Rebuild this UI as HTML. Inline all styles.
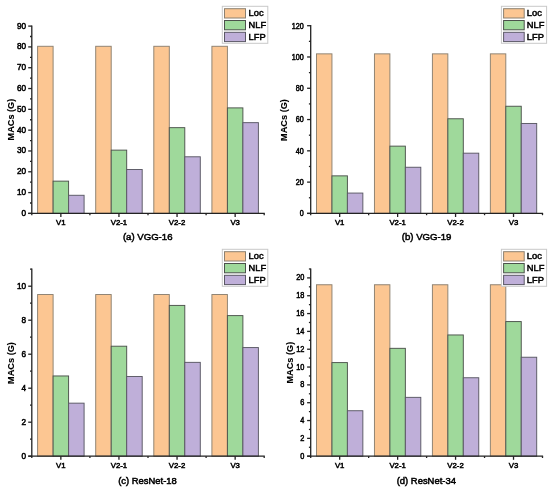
<!DOCTYPE html>
<html><head><meta charset="utf-8"><style>
html,body{margin:0;padding:0;background:#fff;}
svg{display:block;will-change:transform;}
text{font-family:"Liberation Sans",sans-serif;fill:#000;stroke:#000;stroke-width:0.5px;}
</style></head><body>
<svg width="550" height="491" viewBox="0 0 550 491">
<rect width="550" height="491" fill="#fff"/>
<rect x="37.61" y="46.29" width="15.49" height="167.11" fill="#fcc692" stroke="#8c8070" stroke-width="0.95"/>
<rect x="53.1" y="181.14" width="15.49" height="32.26" fill="#9fd99b" stroke="#4c524c" stroke-width="0.95"/>
<rect x="68.6" y="195.29" width="15.49" height="18.11" fill="#bfafd9" stroke="#5a5864" stroke-width="0.95"/>
<rect x="95.71" y="46.29" width="15.49" height="167.11" fill="#fcc692" stroke="#8c8070" stroke-width="0.95"/>
<rect x="111.2" y="150.13" width="15.49" height="63.27" fill="#9fd99b" stroke="#4c524c" stroke-width="0.95"/>
<rect x="126.7" y="169.49" width="15.49" height="43.91" fill="#bfafd9" stroke="#5a5864" stroke-width="0.95"/>
<rect x="153.81" y="46.29" width="15.49" height="167.11" fill="#fcc692" stroke="#8c8070" stroke-width="0.95"/>
<rect x="169.3" y="127.66" width="15.49" height="85.74" fill="#9fd99b" stroke="#4c524c" stroke-width="0.95"/>
<rect x="184.8" y="156.79" width="15.49" height="56.61" fill="#bfafd9" stroke="#5a5864" stroke-width="0.95"/>
<rect x="211.91" y="46.29" width="15.49" height="167.11" fill="#fcc692" stroke="#8c8070" stroke-width="0.95"/>
<rect x="227.4" y="107.89" width="15.49" height="105.51" fill="#9fd99b" stroke="#4c524c" stroke-width="0.95"/>
<rect x="242.9" y="122.66" width="15.49" height="90.74" fill="#bfafd9" stroke="#5a5864" stroke-width="0.95"/>
<line x1="31.8" y1="25.5" x2="31.8" y2="215.2" stroke="#222" stroke-width="1.3"/>
<line x1="28.2" y1="213.4" x2="264.8" y2="213.4" stroke="#222" stroke-width="1.3"/>
<line x1="28.2" y1="213.4" x2="31.8" y2="213.4" stroke="#222" stroke-width="1.3"/>
<text transform="translate(26,215.9) scale(1,1)" text-anchor="end" font-size="8.2">0</text>
<line x1="30" y1="202.99" x2="31.8" y2="202.99" stroke="#222" stroke-width="1.3"/>
<line x1="28.2" y1="192.59" x2="31.8" y2="192.59" stroke="#222" stroke-width="1.3"/>
<text transform="translate(26,195.09) scale(1,1)" text-anchor="end" font-size="8.2">10</text>
<line x1="30" y1="182.18" x2="31.8" y2="182.18" stroke="#222" stroke-width="1.3"/>
<line x1="28.2" y1="171.78" x2="31.8" y2="171.78" stroke="#222" stroke-width="1.3"/>
<text transform="translate(26,174.28) scale(1,1)" text-anchor="end" font-size="8.2">20</text>
<line x1="30" y1="161.37" x2="31.8" y2="161.37" stroke="#222" stroke-width="1.3"/>
<line x1="28.2" y1="150.97" x2="31.8" y2="150.97" stroke="#222" stroke-width="1.3"/>
<text transform="translate(26,153.47) scale(1,1)" text-anchor="end" font-size="8.2">30</text>
<line x1="30" y1="140.56" x2="31.8" y2="140.56" stroke="#222" stroke-width="1.3"/>
<line x1="28.2" y1="130.16" x2="31.8" y2="130.16" stroke="#222" stroke-width="1.3"/>
<text transform="translate(26,132.66) scale(1,1)" text-anchor="end" font-size="8.2">40</text>
<line x1="30" y1="119.75" x2="31.8" y2="119.75" stroke="#222" stroke-width="1.3"/>
<line x1="28.2" y1="109.34" x2="31.8" y2="109.34" stroke="#222" stroke-width="1.3"/>
<text transform="translate(26,111.84) scale(1,1)" text-anchor="end" font-size="8.2">50</text>
<line x1="30" y1="98.94" x2="31.8" y2="98.94" stroke="#222" stroke-width="1.3"/>
<line x1="28.2" y1="88.53" x2="31.8" y2="88.53" stroke="#222" stroke-width="1.3"/>
<text transform="translate(26,91.03) scale(1,1)" text-anchor="end" font-size="8.2">60</text>
<line x1="30" y1="78.13" x2="31.8" y2="78.13" stroke="#222" stroke-width="1.3"/>
<line x1="28.2" y1="67.72" x2="31.8" y2="67.72" stroke="#222" stroke-width="1.3"/>
<text transform="translate(26,70.22) scale(1,1)" text-anchor="end" font-size="8.2">70</text>
<line x1="30" y1="57.32" x2="31.8" y2="57.32" stroke="#222" stroke-width="1.3"/>
<line x1="28.2" y1="46.91" x2="31.8" y2="46.91" stroke="#222" stroke-width="1.3"/>
<text transform="translate(26,49.41) scale(1,1)" text-anchor="end" font-size="8.2">80</text>
<line x1="30" y1="36.51" x2="31.8" y2="36.51" stroke="#222" stroke-width="1.3"/>
<line x1="28.2" y1="26.1" x2="31.8" y2="26.1" stroke="#222" stroke-width="1.3"/>
<text transform="translate(26,28.6) scale(1,1)" text-anchor="end" font-size="8.2">90</text>
<line x1="60.85" y1="213.4" x2="60.85" y2="217" stroke="#222" stroke-width="1.3"/>
<text x="60.85" y="225.4" text-anchor="middle" font-size="7.8">V1</text>
<line x1="118.95" y1="213.4" x2="118.95" y2="217" stroke="#222" stroke-width="1.3"/>
<text x="118.95" y="225.4" text-anchor="middle" font-size="7.8">V2-1</text>
<line x1="177.05" y1="213.4" x2="177.05" y2="217" stroke="#222" stroke-width="1.3"/>
<text x="177.05" y="225.4" text-anchor="middle" font-size="7.8">V2-2</text>
<line x1="235.15" y1="213.4" x2="235.15" y2="217" stroke="#222" stroke-width="1.3"/>
<text x="235.15" y="225.4" text-anchor="middle" font-size="7.8">V3</text>
<line x1="89.9" y1="213.4" x2="89.9" y2="215.2" stroke="#222" stroke-width="1.3"/>
<line x1="148" y1="213.4" x2="148" y2="215.2" stroke="#222" stroke-width="1.3"/>
<line x1="206.1" y1="213.4" x2="206.1" y2="215.2" stroke="#222" stroke-width="1.3"/>
<line x1="264.2" y1="213.4" x2="264.2" y2="215.2" stroke="#222" stroke-width="1.3"/>
<text x="147.7" y="240" text-anchor="middle" font-size="9.6">(a) VGG-16</text>
<text transform="translate(13.75,119.6) rotate(-90)" text-anchor="middle" font-size="9.2" font-weight="bold" style="stroke-width:0.1px">MACs (G)</text>
<rect x="222.3" y="6.3" width="45.5" height="37" fill="#fff" stroke="#c8c8c8" stroke-width="1"/>
<rect x="224.5" y="8.7" width="21.0" height="9.3" fill="#fcc692" stroke="#8c8070" stroke-width="1"/>
<text x="248.6" y="16.2" font-size="9.3">Loc</text>
<rect x="224.5" y="20.5" width="21.0" height="9.3" fill="#9fd99b" stroke="#4c524c" stroke-width="1"/>
<text x="248.6" y="28" font-size="9.3">NLF</text>
<rect x="224.5" y="32.3" width="21.0" height="9.3" fill="#bfafd9" stroke="#5a5864" stroke-width="1"/>
<text x="248.6" y="39.8" font-size="9.3">LFP</text>
<rect x="316.5" y="53.86" width="15.45" height="159.54" fill="#fcc692" stroke="#8c8070" stroke-width="0.95"/>
<rect x="331.95" y="175.86" width="15.45" height="37.54" fill="#9fd99b" stroke="#4c524c" stroke-width="0.95"/>
<rect x="347.4" y="193.07" width="15.45" height="20.33" fill="#bfafd9" stroke="#5a5864" stroke-width="0.95"/>
<rect x="374.44" y="53.86" width="15.45" height="159.54" fill="#fcc692" stroke="#8c8070" stroke-width="0.95"/>
<rect x="389.9" y="146.14" width="15.45" height="67.26" fill="#9fd99b" stroke="#4c524c" stroke-width="0.95"/>
<rect x="405.35" y="167.26" width="15.45" height="46.14" fill="#bfafd9" stroke="#5a5864" stroke-width="0.95"/>
<rect x="432.4" y="53.86" width="15.45" height="159.54" fill="#fcc692" stroke="#8c8070" stroke-width="0.95"/>
<rect x="447.85" y="118.77" width="15.45" height="94.63" fill="#9fd99b" stroke="#4c524c" stroke-width="0.95"/>
<rect x="463.3" y="153.18" width="15.45" height="60.22" fill="#bfafd9" stroke="#5a5864" stroke-width="0.95"/>
<rect x="490.35" y="53.86" width="15.45" height="159.54" fill="#fcc692" stroke="#8c8070" stroke-width="0.95"/>
<rect x="505.8" y="106.25" width="15.45" height="107.15" fill="#9fd99b" stroke="#4c524c" stroke-width="0.95"/>
<rect x="521.25" y="123.46" width="15.45" height="89.94" fill="#bfafd9" stroke="#5a5864" stroke-width="0.95"/>
<line x1="310.7" y1="25.1" x2="310.7" y2="215.2" stroke="#222" stroke-width="1.3"/>
<line x1="307.1" y1="213.4" x2="543.1" y2="213.4" stroke="#222" stroke-width="1.3"/>
<line x1="307.1" y1="213.4" x2="310.7" y2="213.4" stroke="#222" stroke-width="1.3"/>
<text transform="translate(303.8,216.2) scale(0.88,1)" text-anchor="end" font-size="8.2">0</text>
<line x1="308.9" y1="197.76" x2="310.7" y2="197.76" stroke="#222" stroke-width="1.3"/>
<line x1="307.1" y1="182.12" x2="310.7" y2="182.12" stroke="#222" stroke-width="1.3"/>
<text transform="translate(303.8,184.92) scale(0.88,1)" text-anchor="end" font-size="8.2">20</text>
<line x1="308.9" y1="166.48" x2="310.7" y2="166.48" stroke="#222" stroke-width="1.3"/>
<line x1="307.1" y1="150.83" x2="310.7" y2="150.83" stroke="#222" stroke-width="1.3"/>
<text transform="translate(303.8,153.63) scale(0.88,1)" text-anchor="end" font-size="8.2">40</text>
<line x1="308.9" y1="135.19" x2="310.7" y2="135.19" stroke="#222" stroke-width="1.3"/>
<line x1="307.1" y1="119.55" x2="310.7" y2="119.55" stroke="#222" stroke-width="1.3"/>
<text transform="translate(303.8,122.35) scale(0.88,1)" text-anchor="end" font-size="8.2">60</text>
<line x1="308.9" y1="103.91" x2="310.7" y2="103.91" stroke="#222" stroke-width="1.3"/>
<line x1="307.1" y1="88.27" x2="310.7" y2="88.27" stroke="#222" stroke-width="1.3"/>
<text transform="translate(303.8,91.07) scale(0.88,1)" text-anchor="end" font-size="8.2">80</text>
<line x1="308.9" y1="72.63" x2="310.7" y2="72.63" stroke="#222" stroke-width="1.3"/>
<line x1="307.1" y1="56.98" x2="310.7" y2="56.98" stroke="#222" stroke-width="1.3"/>
<text transform="translate(303.8,59.78) scale(0.88,1)" text-anchor="end" font-size="8.2">100</text>
<line x1="308.9" y1="41.34" x2="310.7" y2="41.34" stroke="#222" stroke-width="1.3"/>
<line x1="307.1" y1="25.7" x2="310.7" y2="25.7" stroke="#222" stroke-width="1.3"/>
<text transform="translate(303.8,28.5) scale(0.88,1)" text-anchor="end" font-size="8.2">120</text>
<line x1="339.68" y1="213.4" x2="339.68" y2="217" stroke="#222" stroke-width="1.3"/>
<text x="339.68" y="225.4" text-anchor="middle" font-size="7.8">V1</text>
<line x1="397.62" y1="213.4" x2="397.62" y2="217" stroke="#222" stroke-width="1.3"/>
<text x="397.62" y="225.4" text-anchor="middle" font-size="7.8">V2-1</text>
<line x1="455.57" y1="213.4" x2="455.57" y2="217" stroke="#222" stroke-width="1.3"/>
<text x="455.57" y="225.4" text-anchor="middle" font-size="7.8">V2-2</text>
<line x1="513.52" y1="213.4" x2="513.52" y2="217" stroke="#222" stroke-width="1.3"/>
<text x="513.52" y="225.4" text-anchor="middle" font-size="7.8">V3</text>
<line x1="368.65" y1="213.4" x2="368.65" y2="215.2" stroke="#222" stroke-width="1.3"/>
<line x1="426.6" y1="213.4" x2="426.6" y2="215.2" stroke="#222" stroke-width="1.3"/>
<line x1="484.55" y1="213.4" x2="484.55" y2="215.2" stroke="#222" stroke-width="1.3"/>
<line x1="542.5" y1="213.4" x2="542.5" y2="215.2" stroke="#222" stroke-width="1.3"/>
<text x="426.6" y="240" text-anchor="middle" font-size="9.6">(b) VGG-19</text>
<text transform="translate(287.3,120) rotate(-90)" text-anchor="middle" font-size="9.2" font-weight="bold" style="stroke-width:0.1px">MACs (G)</text>
<rect x="501.4" y="6.3" width="45.2" height="37" fill="#fff" stroke="#c8c8c8" stroke-width="1"/>
<rect x="503.6" y="8.7" width="20.6" height="9.3" fill="#fcc692" stroke="#8c8070" stroke-width="1"/>
<text x="526.8" y="16.2" font-size="9.3">Loc</text>
<rect x="503.6" y="20.5" width="20.6" height="9.3" fill="#9fd99b" stroke="#4c524c" stroke-width="1"/>
<text x="526.8" y="28" font-size="9.3">NLF</text>
<rect x="503.6" y="32.3" width="20.6" height="9.3" fill="#bfafd9" stroke="#5a5864" stroke-width="1"/>
<text x="526.8" y="39.8" font-size="9.3">LFP</text>
<rect x="37.61" y="294.53" width="15.49" height="161.67" fill="#fcc692" stroke="#8c8070" stroke-width="0.95"/>
<rect x="53.1" y="375.96" width="15.49" height="80.24" fill="#9fd99b" stroke="#4c524c" stroke-width="0.95"/>
<rect x="68.6" y="403.16" width="15.49" height="53.04" fill="#bfafd9" stroke="#5a5864" stroke-width="0.95"/>
<rect x="95.71" y="294.53" width="15.49" height="161.67" fill="#fcc692" stroke="#8c8070" stroke-width="0.95"/>
<rect x="111.2" y="346.21" width="15.49" height="109.99" fill="#9fd99b" stroke="#4c524c" stroke-width="0.95"/>
<rect x="126.7" y="376.47" width="15.49" height="79.73" fill="#bfafd9" stroke="#5a5864" stroke-width="0.95"/>
<rect x="153.81" y="294.53" width="15.49" height="161.67" fill="#fcc692" stroke="#8c8070" stroke-width="0.95"/>
<rect x="169.3" y="305.41" width="15.49" height="150.79" fill="#9fd99b" stroke="#4c524c" stroke-width="0.95"/>
<rect x="184.8" y="362.36" width="15.49" height="93.84" fill="#bfafd9" stroke="#5a5864" stroke-width="0.95"/>
<rect x="211.91" y="294.53" width="15.49" height="161.67" fill="#fcc692" stroke="#8c8070" stroke-width="0.95"/>
<rect x="227.4" y="315.61" width="15.49" height="140.59" fill="#9fd99b" stroke="#4c524c" stroke-width="0.95"/>
<rect x="242.9" y="347.57" width="15.49" height="108.63" fill="#bfafd9" stroke="#5a5864" stroke-width="0.95"/>
<line x1="31.8" y1="268.6" x2="31.8" y2="458" stroke="#222" stroke-width="1.3"/>
<line x1="28.2" y1="456.2" x2="264.8" y2="456.2" stroke="#222" stroke-width="1.3"/>
<line x1="28.2" y1="456.2" x2="31.8" y2="456.2" stroke="#222" stroke-width="1.3"/>
<text transform="translate(26,458.7) scale(1,1)" text-anchor="end" font-size="8.2">0</text>
<line x1="30" y1="439.2" x2="31.8" y2="439.2" stroke="#222" stroke-width="1.3"/>
<line x1="28.2" y1="422.2" x2="31.8" y2="422.2" stroke="#222" stroke-width="1.3"/>
<text transform="translate(26,424.7) scale(1,1)" text-anchor="end" font-size="8.2">2</text>
<line x1="30" y1="405.2" x2="31.8" y2="405.2" stroke="#222" stroke-width="1.3"/>
<line x1="28.2" y1="388.2" x2="31.8" y2="388.2" stroke="#222" stroke-width="1.3"/>
<text transform="translate(26,390.7) scale(1,1)" text-anchor="end" font-size="8.2">4</text>
<line x1="30" y1="371.2" x2="31.8" y2="371.2" stroke="#222" stroke-width="1.3"/>
<line x1="28.2" y1="354.2" x2="31.8" y2="354.2" stroke="#222" stroke-width="1.3"/>
<text transform="translate(26,356.7) scale(1,1)" text-anchor="end" font-size="8.2">6</text>
<line x1="30" y1="337.2" x2="31.8" y2="337.2" stroke="#222" stroke-width="1.3"/>
<line x1="28.2" y1="320.2" x2="31.8" y2="320.2" stroke="#222" stroke-width="1.3"/>
<text transform="translate(26,322.7) scale(1,1)" text-anchor="end" font-size="8.2">8</text>
<line x1="30" y1="303.2" x2="31.8" y2="303.2" stroke="#222" stroke-width="1.3"/>
<line x1="28.2" y1="286.2" x2="31.8" y2="286.2" stroke="#222" stroke-width="1.3"/>
<text transform="translate(26,288.7) scale(1,1)" text-anchor="end" font-size="8.2">10</text>
<line x1="30" y1="269.2" x2="31.8" y2="269.2" stroke="#222" stroke-width="1.3"/>
<line x1="60.85" y1="456.2" x2="60.85" y2="459.8" stroke="#222" stroke-width="1.3"/>
<text x="60.85" y="468.2" text-anchor="middle" font-size="7.8">V1</text>
<line x1="118.95" y1="456.2" x2="118.95" y2="459.8" stroke="#222" stroke-width="1.3"/>
<text x="118.95" y="468.2" text-anchor="middle" font-size="7.8">V2-1</text>
<line x1="177.05" y1="456.2" x2="177.05" y2="459.8" stroke="#222" stroke-width="1.3"/>
<text x="177.05" y="468.2" text-anchor="middle" font-size="7.8">V2-2</text>
<line x1="235.15" y1="456.2" x2="235.15" y2="459.8" stroke="#222" stroke-width="1.3"/>
<text x="235.15" y="468.2" text-anchor="middle" font-size="7.8">V3</text>
<line x1="89.9" y1="456.2" x2="89.9" y2="458" stroke="#222" stroke-width="1.3"/>
<line x1="148" y1="456.2" x2="148" y2="458" stroke="#222" stroke-width="1.3"/>
<line x1="206.1" y1="456.2" x2="206.1" y2="458" stroke="#222" stroke-width="1.3"/>
<line x1="264.2" y1="456.2" x2="264.2" y2="458" stroke="#222" stroke-width="1.3"/>
<text x="147.5" y="483.6" text-anchor="middle" font-size="9.45">(c) ResNet-18</text>
<text transform="translate(13.95,363) rotate(-90)" text-anchor="middle" font-size="9.2" font-weight="bold" style="stroke-width:0.1px">MACs (G)</text>
<rect x="222.3" y="249.3" width="45.5" height="37" fill="#fff" stroke="#c8c8c8" stroke-width="1"/>
<rect x="224.5" y="251.7" width="21.0" height="9.3" fill="#fcc692" stroke="#8c8070" stroke-width="1"/>
<text x="248.6" y="259.2" font-size="9.3">Loc</text>
<rect x="224.5" y="263.5" width="21.0" height="9.3" fill="#9fd99b" stroke="#4c524c" stroke-width="1"/>
<text x="248.6" y="271" font-size="9.3">NLF</text>
<rect x="224.5" y="275.3" width="21.0" height="9.3" fill="#bfafd9" stroke="#5a5864" stroke-width="1"/>
<text x="248.6" y="282.8" font-size="9.3">LFP</text>
<rect x="316.5" y="284.76" width="15.45" height="171.44" fill="#fcc692" stroke="#8c8070" stroke-width="0.95"/>
<rect x="331.95" y="362.59" width="15.45" height="93.61" fill="#9fd99b" stroke="#4c524c" stroke-width="0.95"/>
<rect x="347.4" y="410.73" width="15.45" height="45.47" fill="#bfafd9" stroke="#5a5864" stroke-width="0.95"/>
<rect x="374.44" y="284.76" width="15.45" height="171.44" fill="#fcc692" stroke="#8c8070" stroke-width="0.95"/>
<rect x="389.9" y="348.33" width="15.45" height="107.87" fill="#9fd99b" stroke="#4c524c" stroke-width="0.95"/>
<rect x="405.35" y="397.36" width="15.45" height="58.84" fill="#bfafd9" stroke="#5a5864" stroke-width="0.95"/>
<rect x="432.4" y="284.76" width="15.45" height="171.44" fill="#fcc692" stroke="#8c8070" stroke-width="0.95"/>
<rect x="447.85" y="334.96" width="15.45" height="121.24" fill="#9fd99b" stroke="#4c524c" stroke-width="0.95"/>
<rect x="463.3" y="377.75" width="15.45" height="78.45" fill="#bfafd9" stroke="#5a5864" stroke-width="0.95"/>
<rect x="490.35" y="284.76" width="15.45" height="171.44" fill="#fcc692" stroke="#8c8070" stroke-width="0.95"/>
<rect x="505.8" y="321.58" width="15.45" height="134.62" fill="#9fd99b" stroke="#4c524c" stroke-width="0.95"/>
<rect x="521.25" y="357.24" width="15.45" height="98.96" fill="#bfafd9" stroke="#5a5864" stroke-width="0.95"/>
<line x1="310.7" y1="268.5" x2="310.7" y2="458" stroke="#222" stroke-width="1.3"/>
<line x1="307.1" y1="456.2" x2="543.1" y2="456.2" stroke="#222" stroke-width="1.3"/>
<line x1="307.1" y1="456.2" x2="310.7" y2="456.2" stroke="#222" stroke-width="1.3"/>
<text transform="translate(304.4,458.7) scale(0.9,1)" text-anchor="end" font-size="8.2">0</text>
<line x1="308.9" y1="447.28" x2="310.7" y2="447.28" stroke="#222" stroke-width="1.3"/>
<line x1="307.1" y1="438.37" x2="310.7" y2="438.37" stroke="#222" stroke-width="1.3"/>
<text transform="translate(304.4,440.87) scale(0.9,1)" text-anchor="end" font-size="8.2">2</text>
<line x1="308.9" y1="429.45" x2="310.7" y2="429.45" stroke="#222" stroke-width="1.3"/>
<line x1="307.1" y1="420.54" x2="310.7" y2="420.54" stroke="#222" stroke-width="1.3"/>
<text transform="translate(304.4,423.04) scale(0.9,1)" text-anchor="end" font-size="8.2">4</text>
<line x1="308.9" y1="411.62" x2="310.7" y2="411.62" stroke="#222" stroke-width="1.3"/>
<line x1="307.1" y1="402.71" x2="310.7" y2="402.71" stroke="#222" stroke-width="1.3"/>
<text transform="translate(304.4,405.21) scale(0.9,1)" text-anchor="end" font-size="8.2">6</text>
<line x1="308.9" y1="393.8" x2="310.7" y2="393.8" stroke="#222" stroke-width="1.3"/>
<line x1="307.1" y1="384.88" x2="310.7" y2="384.88" stroke="#222" stroke-width="1.3"/>
<text transform="translate(304.4,387.38) scale(0.9,1)" text-anchor="end" font-size="8.2">8</text>
<line x1="308.9" y1="375.97" x2="310.7" y2="375.97" stroke="#222" stroke-width="1.3"/>
<line x1="307.1" y1="367.05" x2="310.7" y2="367.05" stroke="#222" stroke-width="1.3"/>
<text transform="translate(304.4,369.55) scale(0.9,1)" text-anchor="end" font-size="8.2">10</text>
<line x1="308.9" y1="358.13" x2="310.7" y2="358.13" stroke="#222" stroke-width="1.3"/>
<line x1="307.1" y1="349.22" x2="310.7" y2="349.22" stroke="#222" stroke-width="1.3"/>
<text transform="translate(304.4,351.72) scale(0.9,1)" text-anchor="end" font-size="8.2">12</text>
<line x1="308.9" y1="340.31" x2="310.7" y2="340.31" stroke="#222" stroke-width="1.3"/>
<line x1="307.1" y1="331.39" x2="310.7" y2="331.39" stroke="#222" stroke-width="1.3"/>
<text transform="translate(304.4,333.89) scale(0.9,1)" text-anchor="end" font-size="8.2">14</text>
<line x1="308.9" y1="322.48" x2="310.7" y2="322.48" stroke="#222" stroke-width="1.3"/>
<line x1="307.1" y1="313.56" x2="310.7" y2="313.56" stroke="#222" stroke-width="1.3"/>
<text transform="translate(304.4,316.06) scale(0.9,1)" text-anchor="end" font-size="8.2">16</text>
<line x1="308.9" y1="304.64" x2="310.7" y2="304.64" stroke="#222" stroke-width="1.3"/>
<line x1="307.1" y1="295.73" x2="310.7" y2="295.73" stroke="#222" stroke-width="1.3"/>
<text transform="translate(304.4,298.23) scale(0.9,1)" text-anchor="end" font-size="8.2">18</text>
<line x1="308.9" y1="286.81" x2="310.7" y2="286.81" stroke="#222" stroke-width="1.3"/>
<line x1="307.1" y1="277.9" x2="310.7" y2="277.9" stroke="#222" stroke-width="1.3"/>
<text transform="translate(304.4,280.4) scale(0.9,1)" text-anchor="end" font-size="8.2">20</text>
<line x1="308.9" y1="268.99" x2="310.7" y2="268.99" stroke="#222" stroke-width="1.3"/>
<line x1="339.68" y1="456.2" x2="339.68" y2="459.8" stroke="#222" stroke-width="1.3"/>
<text x="339.68" y="468.2" text-anchor="middle" font-size="7.8">V1</text>
<line x1="397.62" y1="456.2" x2="397.62" y2="459.8" stroke="#222" stroke-width="1.3"/>
<text x="397.62" y="468.2" text-anchor="middle" font-size="7.8">V2-1</text>
<line x1="455.57" y1="456.2" x2="455.57" y2="459.8" stroke="#222" stroke-width="1.3"/>
<text x="455.57" y="468.2" text-anchor="middle" font-size="7.8">V2-2</text>
<line x1="513.52" y1="456.2" x2="513.52" y2="459.8" stroke="#222" stroke-width="1.3"/>
<text x="513.52" y="468.2" text-anchor="middle" font-size="7.8">V3</text>
<line x1="368.65" y1="456.2" x2="368.65" y2="458" stroke="#222" stroke-width="1.3"/>
<line x1="426.6" y1="456.2" x2="426.6" y2="458" stroke="#222" stroke-width="1.3"/>
<line x1="484.55" y1="456.2" x2="484.55" y2="458" stroke="#222" stroke-width="1.3"/>
<line x1="542.5" y1="456.2" x2="542.5" y2="458" stroke="#222" stroke-width="1.3"/>
<text x="426.3" y="483.6" text-anchor="middle" font-size="9.45">(d) ResNet-34</text>
<text transform="translate(292.55,362.7) rotate(-90)" text-anchor="middle" font-size="9.2" font-weight="bold" style="stroke-width:0.1px">MACs (G)</text>
<rect x="501.4" y="249.3" width="45.2" height="37" fill="#fff" stroke="#c8c8c8" stroke-width="1"/>
<rect x="503.6" y="251.7" width="20.6" height="9.3" fill="#fcc692" stroke="#8c8070" stroke-width="1"/>
<text x="526.8" y="259.2" font-size="9.3">Loc</text>
<rect x="503.6" y="263.5" width="20.6" height="9.3" fill="#9fd99b" stroke="#4c524c" stroke-width="1"/>
<text x="526.8" y="271" font-size="9.3">NLF</text>
<rect x="503.6" y="275.3" width="20.6" height="9.3" fill="#bfafd9" stroke="#5a5864" stroke-width="1"/>
<text x="526.8" y="282.8" font-size="9.3">LFP</text>
</svg>
</body></html>
